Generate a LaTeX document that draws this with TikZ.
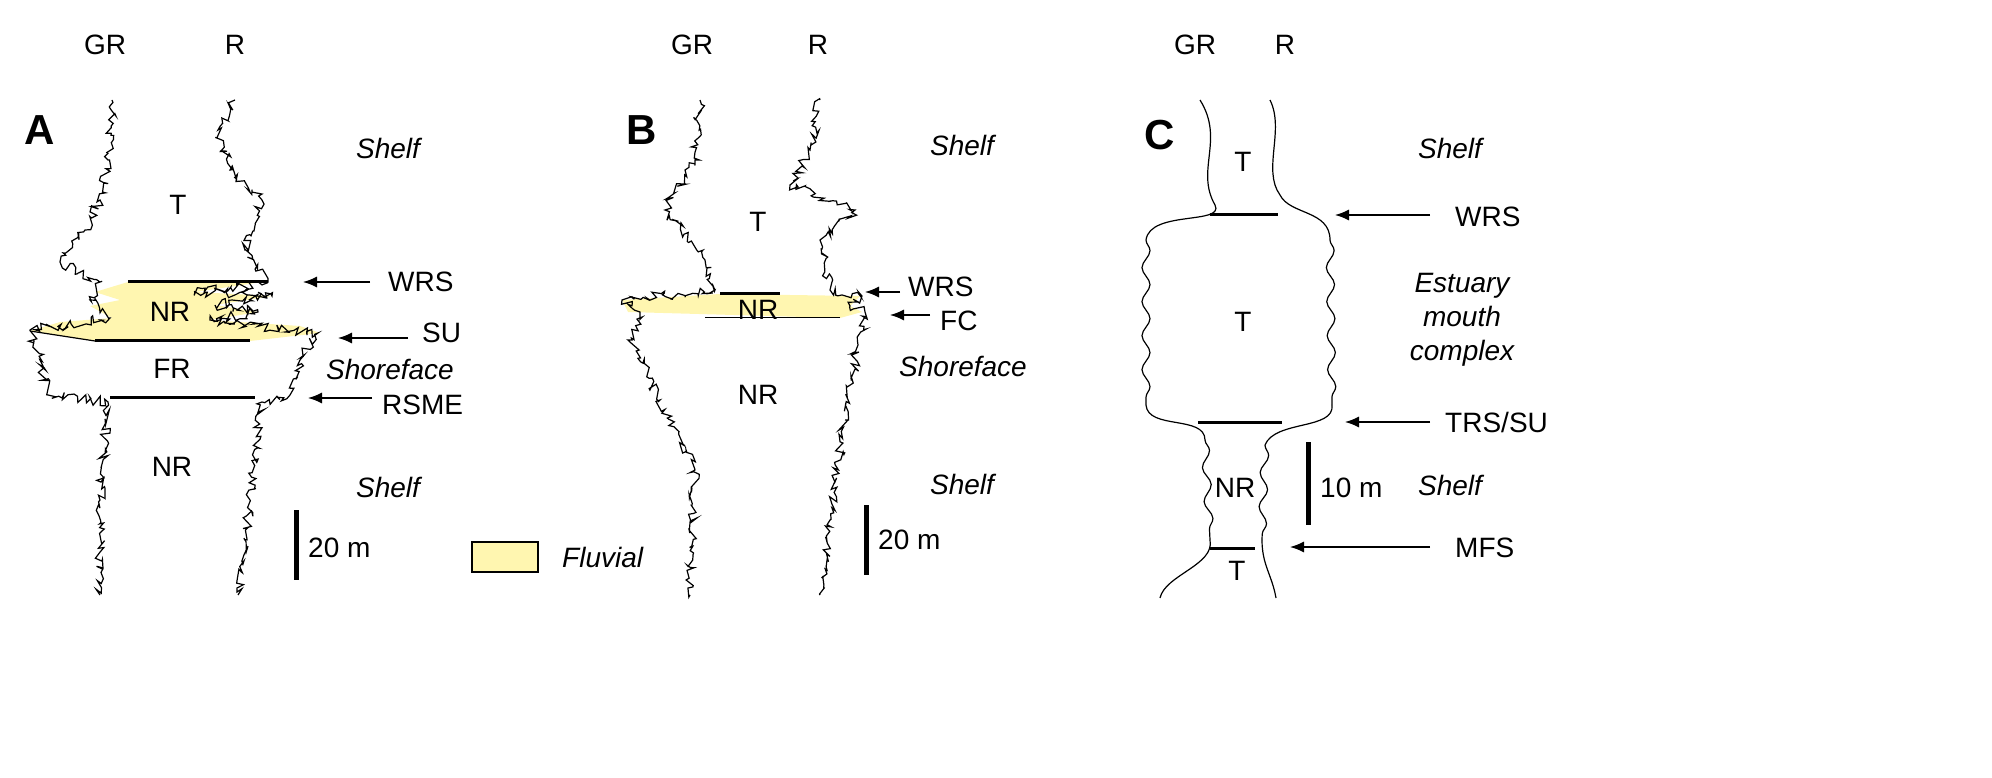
\documentclass[tikz,border=0pt]{standalone}
\usepackage{fontspec}
\setmainfont{Liberation Sans}
\usetikzlibrary{decorations.pathmorphing,arrows.meta}
\begin{document}
\begin{tikzpicture}[x=1pt,y=-1pt,
 lbl/.style={font=\fontsize{28}{32}\selectfont,inner sep=0pt},
 ital/.style={font=\fontsize{28}{34}\selectfont\itshape,inner sep=0pt,align=center},
 big/.style={font=\fontsize{42}{44}\selectfont\bfseries,inner sep=0pt},
 log/.style={line width=1.2pt,decorate,decoration={random steps,segment length=3pt,amplitude=5pt}},
 smooth log/.style={line width=1.2pt,decorate,decoration={snake,segment length=34pt,amplitude=4pt}},
 surf/.style={line width=3pt},
 arr/.style={line width=1.3pt,-{Latex[length=14pt,width=11pt]}},
 bar/.style={line width=5pt}]
\useasboundingbox (0,0) rectangle (1992,778);
\definecolor{fluv}{RGB}{255,246,176}
\pgfmathsetseed{7}
% ---------- Panel A ----------
\node[lbl] (gra) at (105,45) {GR};
\node[lbl] (ra) at (235,45) {R};
\node[big] (pa) at (40,130) {A};
\fill[fluv] (128,282)--(262,282)--(195,292)--(272,296)--(215,305)--(258,312)--(210,320)--(300,326)--(320,333)--(250,341)--(95,341)--(30,331)--(60,322)--(112,318)--(90,306)--(120,300)--(95,292)--cycle;
\draw[log] (112,100)--(108,160)--(100,200)--(85,230)--(60,262)--(100,282)--(90,300)--(110,318)--(30,330)--(40,360)--(48,395)--(108,402)--(100,500)--(100,595);
\draw[log] (235,100)--(218,130)--(230,170)--(262,200)--(245,250)--(268,282)--(195,292)--(272,296)--(215,305)--(258,312)--(210,320)--(318,333)--(300,360)--(290,395)--(262,402)--(250,500)--(238,595);
\draw[line width=1.2pt] (95,341)--(30,331);
\node[lbl] (ta) at (178,205) {T};
\node[lbl] (nra1) at (170,312) {NR};
\node[lbl] (fra) at (172,369) {FR};
\node[lbl] (nra2) at (172,467) {NR};
\draw[surf] (128,281)--(268,281);
\draw[surf] (95,340)--(250,340);
\draw[surf] (110,397)--(255,397);
\node[ital] (sha1) at (388,148) {Shelf};
\node[ital] (shfa) at (390,369) {Shoreface};
\node[ital] (sha2) at (388,487) {Shelf};
\node[lbl,anchor=west] (wrsa) at (388,282) {WRS};
\node[lbl,anchor=west] (sua) at (422,333) {SU};
\node[lbl,anchor=west] (rsa) at (382,405) {RSME};
\coordinate (wrsat) at (303,282);
\coordinate (suat) at (338,338);
\coordinate (rsat) at (308,398);
\draw[arr] (370,282)--(wrsat);
\draw[arr] (408,338)--(suat);
\draw[arr] (372,398)--(rsat);
\coordinate (sba1) at (296,510); \coordinate (sba2) at (296,580);
\draw[bar] (sba1)--(sba2);
\node[lbl,anchor=west] (sbla) at (308,548) {20 m};
% legend
\node[draw,fill=fluv,line width=1.2pt,minimum width=66pt,minimum height=30pt,inner sep=0pt] (leg) at (505,557) {};
\node[ital,anchor=west] (legt) at (562,557) {Fluvial};
% ---------- Panel B ----------
\node[lbl] (grb) at (692,45) {GR};
\node[lbl] (rb) at (818,45) {R};
\node[big] (pb) at (642,130) {B};
\fill[fluv] (720,294)--(860,296)--(850,306)--(862,312)--(840,318)--(628,312)--(622,300)--cycle;
\draw[log] (700,100)--(695,160)--(665,210)--(705,260)--(715,290)--(622,300)--(640,312)--(632,340)--(660,400)--(695,470)--(690,595);
\draw[log] (820,100)--(810,150)--(790,185)--(855,210)--(820,240)--(830,290)--(862,296)--(850,306)--(865,312)--(858,345)--(845,420)--(830,520)--(820,595);
\node[lbl] (tb) at (758,222) {T};
\node[lbl] (nrb1) at (758,310) {NR};
\node[lbl] (nrb2) at (758,395) {NR};
\draw[surf] (720,293)--(780,293);
\draw[line width=1pt] (705,317)--(840,317);
\node[ital] (shb1) at (962,145) {Shelf};
\node[ital] (shfb) at (963,366) {Shoreface};
\node[ital] (shb2) at (962,484) {Shelf};
\node[lbl,anchor=west] (wrsb) at (908,287) {WRS};
\node[lbl,anchor=west] (fcb) at (940,321) {FC};
\coordinate (wrsbt) at (865,292); \coordinate (fcbt) at (890,315);
\draw[arr] (900,292)--(wrsbt);
\draw[arr] (930,315)--(fcbt);
\coordinate (sbb1) at (866,505); \coordinate (sbb2) at (866,575);
\draw[bar] (sbb1)--(sbb2);
\node[lbl,anchor=west] (sblb) at (878,540) {20 m};
% ---------- Panel C ----------
\node[lbl] (grc) at (1195,45) {GR};
\node[lbl] (rc) at (1285,45) {R};
\node[big] (pc) at (1160,135) {C};
\draw[line width=1.2pt] (1200,100) .. controls (1225,140) and (1195,170) .. (1215,205) .. controls (1225,225) and (1150,210) .. (1146,240);
\draw[smooth log] (1146,240)--(1146,405);
\draw[line width=1.2pt] (1146,405) .. controls (1148,430) and (1205,415) .. (1205,440);
\draw[smooth log] (1205,440)--(1210,540);
\draw[line width=1.2pt] (1210,540) .. controls (1215,565) and (1165,575) .. (1160,598);
\draw[line width=1.2pt] (1270,100) .. controls (1285,130) and (1262,170) .. (1280,195) .. controls (1290,215) and (1330,210) .. (1330,240);
\draw[smooth log] (1330,240)--(1332,405);
\draw[line width=1.2pt] (1332,405) .. controls (1335,430) and (1275,420) .. (1265,445);
\draw[smooth log] (1265,445)--(1262,540);
\draw[line width=1.2pt] (1262,540) .. controls (1262,565) and (1272,575) .. (1276,598);
\node[lbl] (tc1) at (1243,162) {T};
\node[lbl] (tc2) at (1243,322) {T};
\node[lbl] (nrc) at (1235,488) {NR};
\node[lbl] (tc3) at (1237,571) {T};
\draw[surf] (1210,215)--(1278,215);
\draw[surf] (1198,422)--(1282,422);
\draw[surf] (1210,548)--(1255,548);
\node[ital] (shc1) at (1450,148) {Shelf};
\node[ital] (est) at (1462,320) {Estuary\\mouth\\complex};
\node[ital] (shc2) at (1450,485) {Shelf};
\node[lbl,anchor=west] (wrsc) at (1455,217) {WRS};
\node[lbl,anchor=west] (trsc) at (1445,422) {TRS/SU};
\node[lbl,anchor=west] (mfsc) at (1455,548) {MFS};
\coordinate (wrsct) at (1335,215); \coordinate (trsct) at (1345,422); \coordinate (mfsct) at (1290,547);
\draw[arr] (1430,215)--(wrsct);
\draw[arr] (1430,422)--(trsct);
\draw[arr] (1430,547)--(mfsct);
\coordinate (sbc1) at (1308,442); \coordinate (sbc2) at (1308,525);
\draw[bar] (sbc1)--(sbc2);
\node[lbl,anchor=west] (sblc) at (1320,488) {10 m};
\end{tikzpicture}
\end{document}
